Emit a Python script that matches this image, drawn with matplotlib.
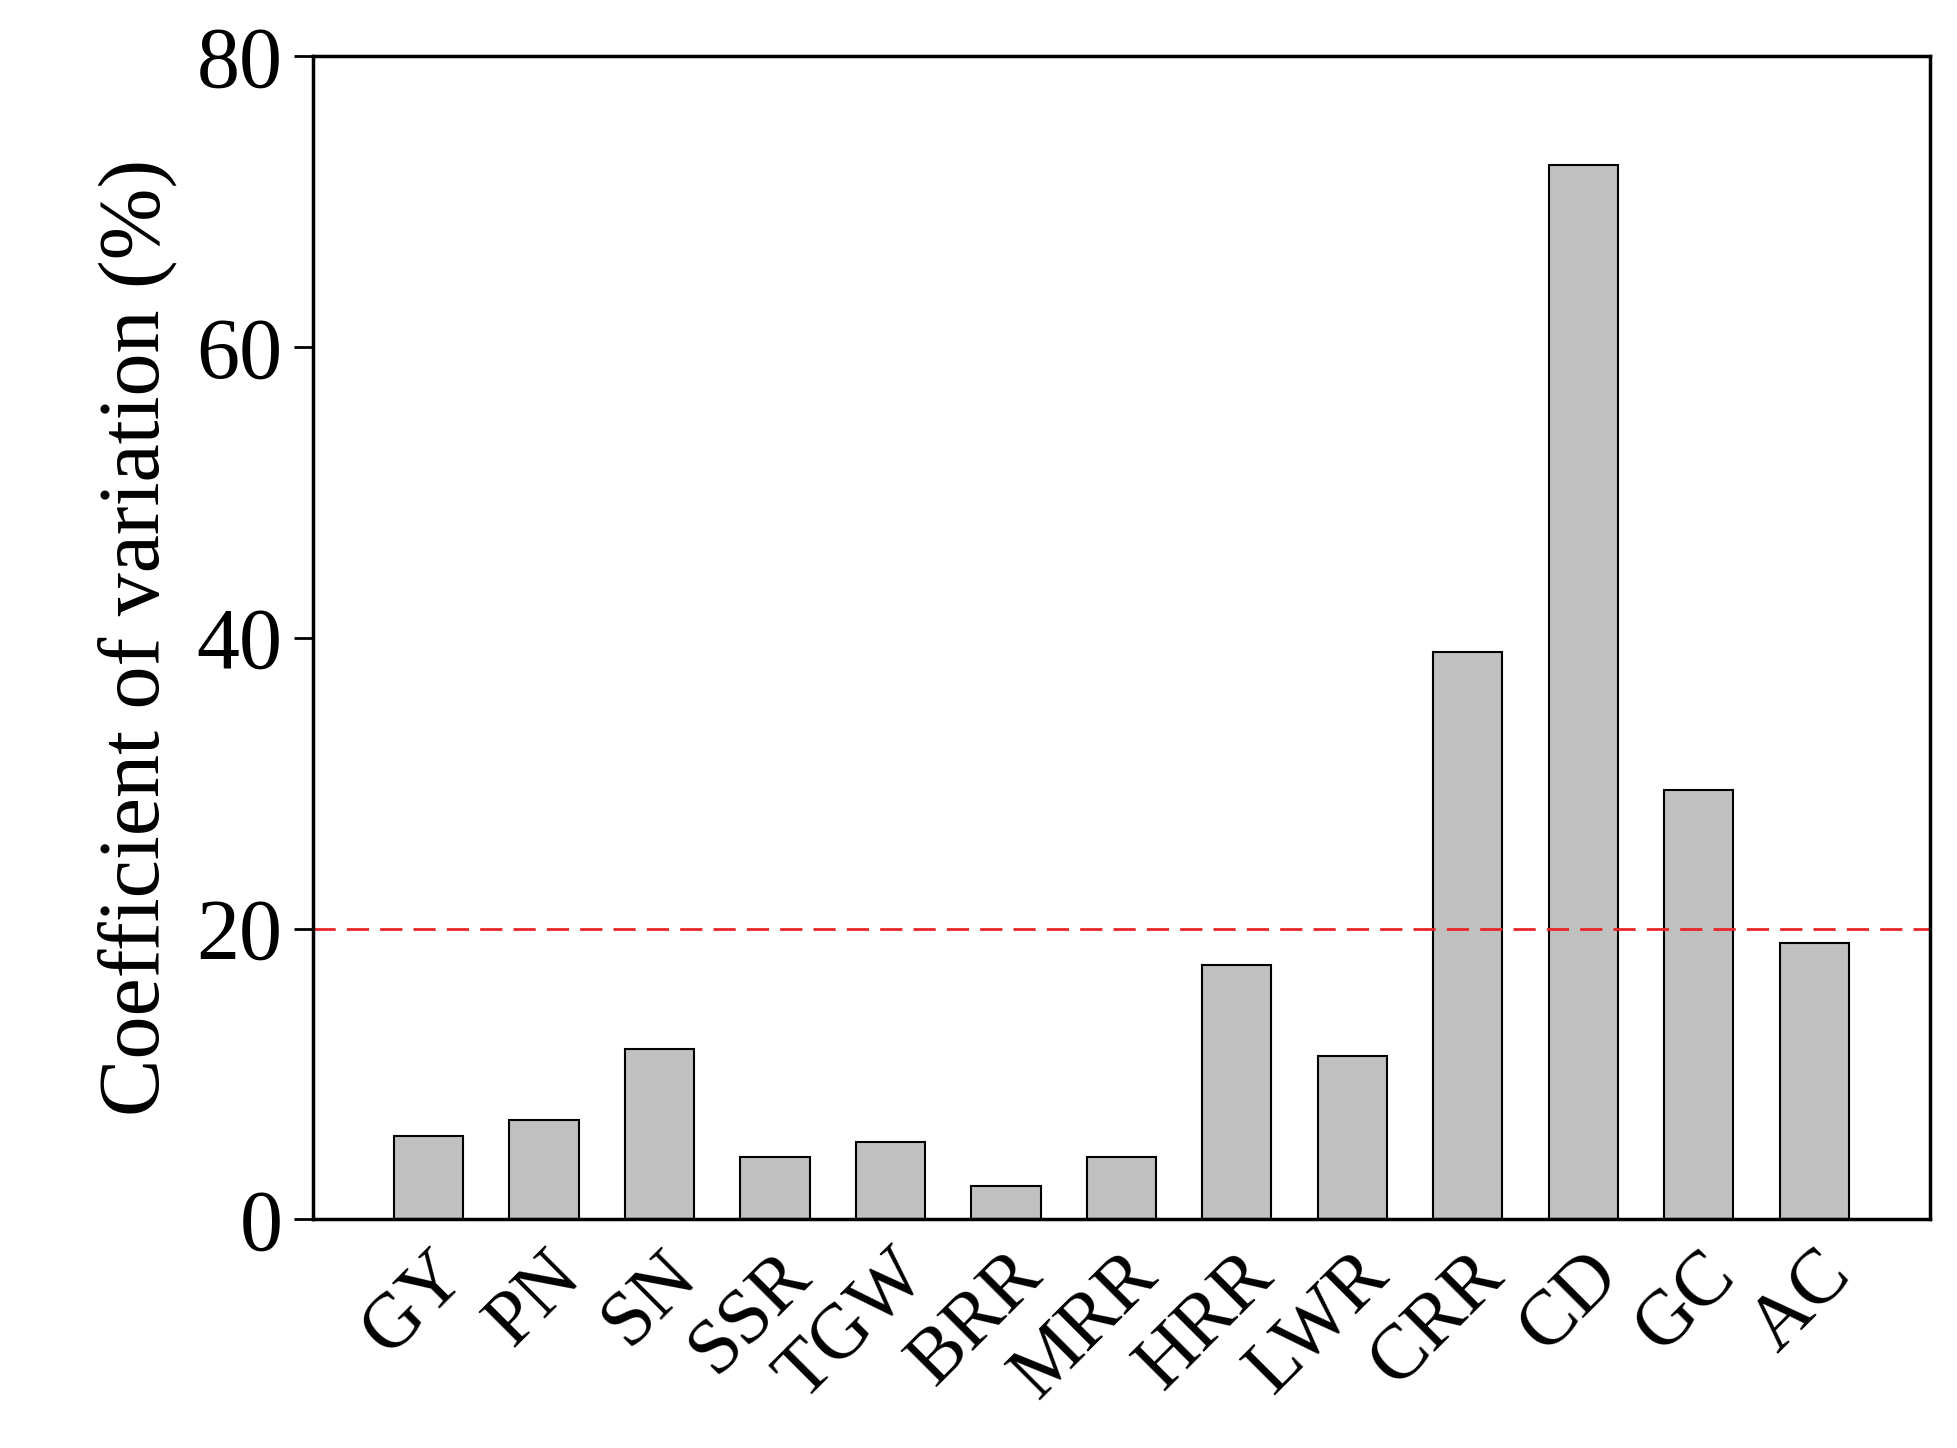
import matplotlib
matplotlib.use("Agg")
import matplotlib.pyplot as plt
from matplotlib import font_manager

categories = ["GY", "PN", "SN", "SSR", "TGW", "BRR", "MRR", "HRR", "LWR", "CRR", "CD", "GC", "AC"]
values = [5.7, 6.8, 11.7, 4.3, 5.3, 2.3, 4.3, 17.5, 11.2, 39.0, 72.5, 29.5, 19.0]
threshold = 20

names = {f.name for f in font_manager.fontManager.ttflist}
fams = [n for n in ["Liberation Serif", "Times New Roman", "Nimbus Roman", "TeX Gyre Termes",
                    "Noto Serif", "DejaVu Serif"] if n in names]
if not fams:
    fams = ["serif"]
plt.rcParams['font.family'] = fams + ["DejaVu Serif"]

fig = plt.figure(figsize=(19.57, 14.48), dpi=100)
ax = fig.add_axes([0.16, 0.158, 0.826, 0.803])
x = list(range(len(categories)))
ax.bar(x, values, width=0.6, color="#c0c0c0", edgecolor="black", linewidth=1.5)
ax.axhline(threshold, color="#e8262a", linestyle=(0, (8, 4)), linewidth=2)
ax.set_xlim(-1, 13)
ax.set_ylim(0, 80)
ax.set_yticks([0, 20, 40, 60, 80])
ax.set_xticks(x)
ax.set_xticklabels(categories, rotation=45, ha="right", rotation_mode="anchor", fontsize=56)
ax.tick_params(axis="y", labelsize=62, length=14, width=2, direction="out", pad=8)
ax.tick_params(axis="x", length=0, pad=14)
ax.set_ylabel("Coefficient of variation (%)", fontsize=62, labelpad=14)
for s in ax.spines.values():
    s.set_linewidth(2.5)
fig.savefig("out.png", dpi=100)
